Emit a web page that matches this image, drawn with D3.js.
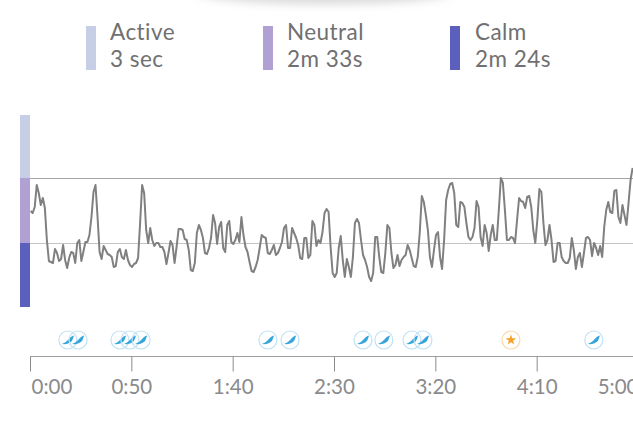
<!DOCTYPE html>
<html><head><meta charset="utf-8">
<script src="https://cdn.jsdelivr.net/npm/d3@7"></script>
<style>html,body{margin:0;padding:0;background:#fff;overflow:hidden}svg{display:block}text{font-family:Lato,"Open Sans",sans-serif}</style>
</head><body><svg id="c" width="633" height="422"></svg>
<script>
const zoneNames = ["Active","Neutral","Calm"];
const zoneTimes = ["3 sec","2m 33s","2m 24s"];
const zoneColors = ["#c7cfe6","#b0a0d3","#5a60bb"];
const zoneEdges = [192,129,64,0];
const tickSeconds = [0,50,100,150,200,250,300];
const tickLabels = ["0:00","0:50","1:40","2:30","3:20","4:10","5:00"];
const birdSeconds = [18.7,23.7,44.4,49.3,54.8,117.4,128.3,164.3,174.6,188.5,193.9,278.2];
const starSeconds = [237.3];
const levels = [96,94,100,122,114,102,109,99,67,46,45,44,58,54,46,48,62,47,39,49,55,54,44,64,67,46,55,65,65,72,90,115,122,90,55,48,61,57,53,52,50,40,41,55,58,50,48,57,47,42,40,43,44,49,84,122,114,77,64,79,67,61,64,64,60,60,55,43,54,66,62,44,60,78,78,77,68,67,57,37,36,44,74,82,77,69,54,53,59,69,92,84,63,80,85,
59,55,82,86,65,63,67,74,65,90,72,60,55,45,36,35,40,47,59,72,70,69,54,53,57,62,52,54,59,65,79,82,59,59,79,74,69,62,49,48,69,69,49,52,86,82,61,67,64,75,94,98,95,60,34,30,34,59,71,47,30,48,40,30,50,84,88,84,67,52,47,40,30,26,34,70,70,50,35,34,54,82,79,54,39,42,52,41,47,50,52,62,57,49,41,40,50,75,
111,105,92,77,50,40,57,72,75,50,38,67,107,117,123,124,114,82,80,105,104,100,84,70,67,70,79,106,100,70,61,82,74,56,72,82,67,67,97,129,124,97,67,67,70,69,64,87,109,106,105,99,110,111,100,77,64,87,118,115,84,62,67,82,67,45,46,64,64,50,46,44,44,49,69,57,38,50,54,40,54,69,70,67,51,64,59,52,61,50,80,97,105,95,94,116,117,90,84,102,92,82,104,127,139];

const svg = d3.select("#c");
const defs = svg.append("defs");
defs.append("filter").attr("id","soft").attr("x","-30%").attr("y","-200%").attr("width","160%").attr("height","500%")
  .append("feGaussianBlur").attr("stdDeviation","9 5");
svg.append("ellipse").attr("cx",325).attr("cy",-7).attr("rx",125).attr("ry",11).attr("fill","#d8d8d8").attr("filter","url(#soft)");

const x = d3.scaleLinear().domain([0,300]).range([30,638]);
const y = d3.scaleLinear().domain([0,192]).range([307,115]);

// legend
const legendX = d3.scaleOrdinal().domain(zoneNames).range([86,263,450]);
const lg = svg.append("g").selectAll("g").data(zoneNames).join("g")
  .attr("transform",d=>`translate(${legendX(d)},0)`);
lg.append("rect").attr("y",26).attr("width",10).attr("height",44).attr("fill",(d,i)=>zoneColors[i]);
lg.append("text").attr("x",d=>d==="Calm"?25:24).attr("y",40).attr("font-size",22.5).attr("letter-spacing",.45).attr("fill","#707072").text(d=>d);
lg.append("text").attr("x",d=>d==="Calm"?25:24).attr("y",67).attr("font-size",22.5).attr("letter-spacing",.45).attr("fill","#707072").text((d,i)=>zoneTimes[i]);

// zone band
svg.append("g").selectAll("rect").data(zoneNames).join("rect")
  .attr("x",20).attr("width",10)
  .attr("y",(d,i)=>y(zoneEdges[i]))
  .attr("height",(d,i)=>y(zoneEdges[i+1])-y(zoneEdges[i]))
  .attr("fill",(d,i)=>zoneColors[i]);

// thresholds
svg.append("g").selectAll("line").data(zoneEdges.slice(1,3)).join("line")
  .attr("x1",30).attr("x2",633).attr("y1",d=>y(d)+.5).attr("y2",d=>y(d)+.5)
  .attr("stroke",(d,i)=>i?"#c4c4c4":"#a6a6a6").attr("stroke-width",1);

// series
svg.append("path").datum(levels)
  .attr("fill","none").attr("stroke","#808080").attr("stroke-width",2).attr("stroke-linejoin","round")
  .attr("d",d3.line().x((d,i)=>x(i+0.33)).y(d=>y(d)));

// axis
const axis = svg.append("g").attr("transform","translate(0,356.5)")
  .call(d3.axisBottom(x).tickValues(tickSeconds).tickFormat((d,i)=>tickLabels[i]).tickSize(15).tickPadding(8));
axis.select(".domain").attr("stroke","#a0a0a0").attr("d","M30,0H633");
axis.selectAll(".tick line").attr("stroke","#8c8c8c");
axis.selectAll("text").attr("font-size",20.5).attr("fill","#8a8a8c")
  .attr("text-anchor",(d,i)=>i===0?"start":i===6?"end":"middle")
  .attr("dx",(d,i)=>i===0?1:0)
  .attr("y",23).attr("dy",".72em");

// events
const birdPath = "M-6,4 C-3,3 -1,1 1,-1 C2.5,-3 4,-4 6,-4.5 C5.5,-2.5 5,-1 4,1 C2,3.5 -2,4.5 -6,4Z";
const b = svg.append("g").selectAll("g").data(birdSeconds).join("g")
  .attr("transform",d=>`translate(${x(d)},340)`);
b.append("circle").attr("r",9).attr("fill","none").attr("stroke","#bfe2f4").attr("stroke-width",1.2);
b.append("path").attr("d",birdPath).attr("fill","#35a5dc");
const s = svg.append("g").selectAll("g").data(starSeconds).join("g")
  .attr("transform",d=>`translate(${x(d)},340)`);
s.append("circle").attr("r",9).attr("fill","none").attr("stroke","#fbd9a8").attr("stroke-width",1.2);
s.append("path").attr("d",d3.symbol(d3.symbolStar,36)()).attr("fill","#f6a12a");
</script></body></html>
